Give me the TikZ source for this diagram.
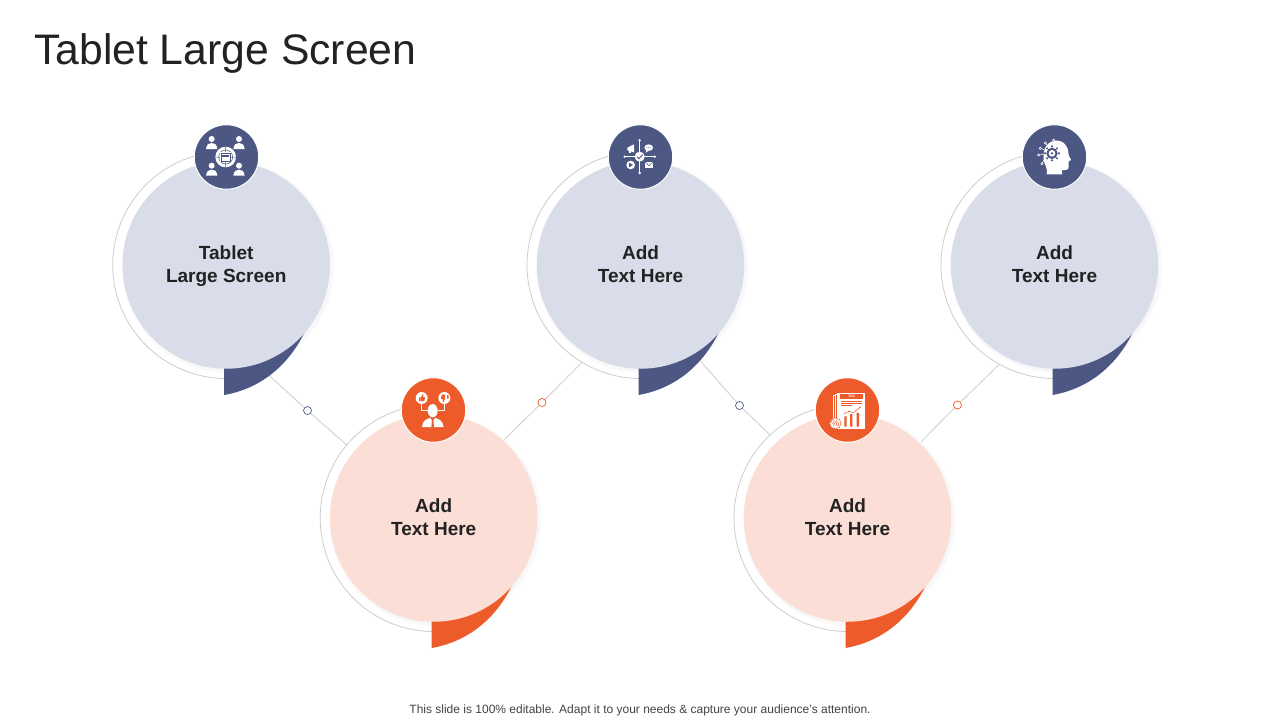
\documentclass[tikz,border=0pt]{standalone}
\usepackage{fontspec}
\setmainfont{Liberation Sans}
\definecolor{navy}{HTML}{4C5784}
\definecolor{flame}{HTML}{EE5B2B}
\definecolor{paleblue}{HTML}{D9DCE9}
\definecolor{paleorange}{HTML}{FBDED5}
\definecolor{ink}{HTML}{222222}
\definecolor{ringgrey}{HTML}{CDCDCD}
\tikzset{
  bigdisc/.style={circle,inner sep=0pt,outer sep=0pt,minimum size=207.5pt,align=center,text=ink,font=\fontsize{19}{23}\selectfont\bfseries},
  ringbase/.style={circle,inner sep=0pt,outer sep=0pt,minimum size=227pt},
  edgebase/.style={circle,inner sep=0pt,outer sep=0pt,minimum size=208pt},
  icondisc/.style={circle,inner sep=0pt,outer sep=0pt,minimum size=64.5pt,draw=white,line width=1pt},
  tiedot/.style={circle,inner sep=0pt,outer sep=0pt,minimum size=8pt,fill=white,line width=.7pt},
  tieline/.style={draw=ringgrey,line width=.8pt},
  ringline/.style={draw=ringgrey,line width=.8pt},
  zoomed/.style={x=0.33333pt,y=-0.33333pt},
}
% #1 centre x, #2 centre y, #3 name, #4 pale colour, #5 strong colour, #6 first line, #7 second line
\newcommand{\stage}[7]{
  \begin{scope}[shift={(#1,#2)}]
    \fill[black!2] (2,2) circle (106);
    \fill[black!3] (1.5,1.5) circle (104.5);
    \draw[ringline] plot[domain=106.4:270,samples=70,smooth] ({113.5*cos(\x)},{-113.5*sin(\x)});
    \fill[#5] (-2,95) -- (-2,130) .. controls (32,124) and (61,103) .. (78.5,67) -- cycle;
  \end{scope}
  \node[bigdisc,fill=#4] (d#3) at (#1,#2) {\rule{0pt}{18.1pt}#6\\\strut #7};
}
\begin{document}
\begin{tikzpicture}[x=1pt,y=-1pt]
\useasboundingbox (0,0) rectangle (1280,720);
\fill[white] (0,0) rectangle (1280,720);
\node[anchor=west,inner sep=0pt,text=ink,font=\fontsize{42.7}{46}\selectfont] (title) at (34,53) {Tablet Large Screen};

% connectors
\node[ringbase] (ra) at (226.2,265) {};
\node[ringbase] (rb) at (433.7,518) {};
\node[edgebase] (eb) at (433.7,518) {};
\node[ringbase] (rc) at (640.5,265) {};
\node[ringbase] (rd) at (847.5,518) {};
\node[edgebase] (ed) at (847.5,518) {};
\node[ringbase] (re) at (1054.5,265) {};
\node[tiedot] (t1) at (307.5,410.5) {};
\node[tiedot] (t2) at (542,402.5) {};
\node[tiedot] (t3) at (739.5,405.5) {};
\node[tiedot] (t4) at (957.5,405) {};
\draw[tieline] (ra.-70.6) -- (t1) -- (rb.140);
\draw[tieline] (eb.48.3) -- (t2) -- (rc.-121);
\draw[tieline] (rc.-58.7) -- (t3) -- (rd.133.6);
\draw[tieline] (ed.46.2) -- (t4) -- (re.-119);
\node[tiedot,draw=navy] at (t1) {};
\node[tiedot,draw=flame] at (t2) {};
\node[tiedot,draw=navy] at (t3) {};
\node[tiedot,draw=flame] at (t4) {};

\stage{226.2}{265}{1}{paleblue}{navy}{Tablet}{Large Screen}
\stage{640.5}{265}{2}{paleblue}{navy}{Add}{Text Here}
\stage{1054.5}{265}{3}{paleblue}{navy}{Add}{Text Here}
\stage{433.7}{518}{4}{paleorange}{flame}{Add}{Text Here}
\stage{847.5}{518}{5}{paleorange}{flame}{Add}{Text Here}

\node[icondisc,fill=navy] (i1) at (226.5,157) {};
\node[icondisc,fill=navy] (i2) at (640.5,157) {};
\node[icondisc,fill=navy] (i3) at (1054.5,157) {};
\node[icondisc,fill=flame] (i4) at (433.5,410) {};
\node[icondisc,fill=flame] (i5) at (847.5,410) {};

% icon 1: people round a globe
\begin{scope}[shift={(185,115)},zoomed]
  \foreach \px/\py in {80/85,162/85,80/165,162/165}{
    \fill[white] (\px,\py-13) circle (9);
    \fill[white] (\px-17,\py+17) .. controls (\px-15,\py+2) and (\px-8,\py-1) .. (\px,\py-1)
       .. controls (\px+8,\py-1) and (\px+15,\py+2) .. (\px+17,\py+17) -- cycle;
  }
  \fill[white] (122,126) circle (31);
  \draw[navy,line width=.5pt] (122,126) circle (21) (122,95) -- (122,157) (91,126) -- (153,126);
  \fill[white] (106,112) rectangle (138,140);
  \draw[navy,line width=.6pt] (108,114) rectangle (136,138);
  \fill[navy] (112,120) rectangle (132,127);
\end{scope}

% icon 2: hub of messages
\begin{scope}[shift={(598,115)},zoomed]
  \draw[white,line width=.8pt] (125,78) -- (125,172) (82,125) -- (168,125);
  \fill[white] (125,76) circle (4) (125,174) circle (4) (80,125) circle (4) (170,125) circle (4);
  \fill[white] (125,125) circle (15);
  \draw[navy,line width=.9pt] (117,125) -- (123,131) -- (134,119);
  \fill[white] (88,98) -- (108,88) -- (108,112) -- (88,106) -- cycle;
  \fill[white] (92,106) rectangle (98,114);
  \fill[white] (152,98) ellipse (13 and 10);
  \fill[white] (145,104) -- (143,113) -- (153,107) -- cycle;
  \fill[navy] (146,97) circle (1.3) (152,97) circle (1.3) (158,97) circle (1.3);
  \fill[white] (98,150) circle (13);
  \fill[navy] (93,143) -- (93,157) -- (105,150) -- cycle;
  \fill[white] (142,141) rectangle (165,160);
  \draw[navy,line width=.5pt] (142,141) -- (153,152) -- (165,141);
\end{scope}

% icon 3: head with a gear
\begin{scope}[shift={(1012,115)},zoomed]
  \fill[white] (104,178) .. controls (106,165) and (104,158) .. (100,150)
    .. controls (92,135) and (92,105) .. (105,90)
    .. controls (120,72) and (150,72) .. (162,92)
    .. controls (170,103) and (168,112) .. (170,120)
    -- (177,135) -- (170,139) -- (170,155)
    .. controls (170,166) and (160,166) .. (150,165)
    -- (150,178) -- cycle;
  \fill[navy] (120,115) circle (17);
  \foreach \a in {0,45,...,315}{\fill[navy] (120,115) ++(\a:21) circle (3.5);}
  \fill[white] (120,115) circle (10);
  \fill[navy] (120,115) circle (4);
  \draw[white,line width=.5pt] (96,104) -- (85,100) (94,118) -- (80,120) (97,132) -- (90,146) (107,92) -- (100,84) (124,84) -- (125,76);
  \draw[white,line width=.5pt,fill=navy] (85,100) circle (3.5) (80,120) circle (3.5) (90,146) circle (3.5) (100,84) circle (3.5) (125,76) circle (3.5);
\end{scope}

% icon 4: person weighing thumbs
\begin{scope}[shift={(391,368)},zoomed]
  \draw[white,line width=.8pt] (92,105) -- (92,128) -- (110,128) (160,105) -- (160,128) -- (141,128);
  \fill[white] (92,90) circle (18) (160,90) circle (18);
  \fill[flame] (84,88) rectangle (89,99) (90,89) -- (94,79) -- (97,81) -- (96,87) -- (102,87) -- (100,99) -- (90,99) -- cycle;
  \fill[flame] (168,81) rectangle (173,92) (152,80) -- (162,80) -- (162,92) -- (158,102) -- (155,100) -- (156,93) -- (150,93) -- cycle;
  \fill[white] (125,128) ellipse (15 and 20);
  \fill[white] (93,177) .. controls (95,158) and (105,153) .. (118,150) -- (125,160) -- (132,150)
     .. controls (145,153) and (155,158) .. (158,177) -- cycle;
  \fill[flame] (123,156) -- (127,156) -- (129,177) -- (121,177) -- cycle;
\end{scope}

% icon 5: tax report
\begin{scope}[shift={(805,368)},zoomed]
  \draw[white,line width=.7pt,fill=flame] (85,82) rectangle (170,178);
  \draw[white,line width=.7pt,fill=flame] (90,78) rectangle (175,180);
  \fill[white] (95,74) rectangle (181,182);
  \fill[flame] (105,78) rectangle (175,92);
  \node[inner sep=0pt,text=white,font=\fontsize{3.6}{4}\selectfont\bfseries] (taxword) at (140,85) {TAX};
  \draw[flame,line width=.5pt] (108,99) -- (172,99) (108,106) -- (172,106) (108,113) -- (140,113);
  \fill[flame] (118,145) rectangle (125,176) (135,138) rectangle (142,176) (155,135) rectangle (162,176);
  \draw[flame,line width=.5pt] (115,138) -- (132,130) -- (145,134) -- (165,118);
  \fill[flame] (132,130) circle (2.5) (165,118) circle (2.5);
  \draw[flame,fill=white,line width=.5pt] (91,166) circle (17);
  \node[inner sep=0pt,text=flame,font=\fontsize{9.5}{10}\selectfont] (pct) at (91,166) {\%};
\end{scope}

\node[inner sep=0pt,text=ink!85,font=\fontsize{12}{14}\selectfont] (foot) at (640,710.5) {This slide is 100\% editable. Adapt it to your needs \& capture your audience's attention.};
\end{tikzpicture}
\end{document}
